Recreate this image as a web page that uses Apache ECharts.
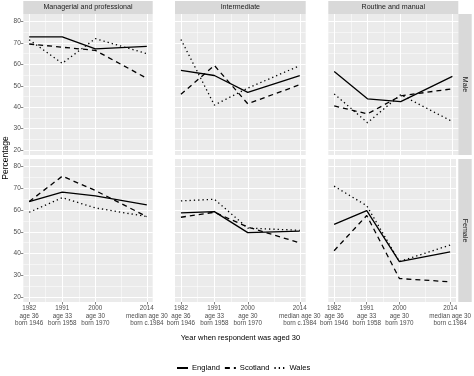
<!DOCTYPE html>
<html>
<head>
<meta charset="utf-8">
<script src="https://cdn.jsdelivr.net/npm/echarts@6/dist/echarts.min.js"></script>
<style>
html,body{margin:0;padding:0;background:#fff;}
#chart{width:474px;height:376px;}
</style>
</head>
<body>
<div id="chart"></div>
<script>
// ---- data ----
const years = [1982, 1991, 2000, 2014];
const yearLabels = ['1982\nage 36\nborn 1946', '1991\nage 33\nborn 1958', '2000\nage 30\nborn 1970', '2014\nmedian age 30\nborn c.1984'];
const minorYears = [1986.5, 1995.5, 2007];
const yTicks = [20, 30, 40, 50, 60, 70, 80];
const yMinorTicks = [25, 35, 45, 55, 65, 75];
const classes = ['Managerial and professional', 'Intermediate', 'Routine and manual'];
const sexes = ['Male', 'Female'];
const countries = ['England', 'Scotland', 'Wales'];

const maleManagerialEngland = [72.8, 72.8, 67.2, 68.4];
const maleManagerialScotland = [69.5, 68.0, 66.5, 53.5];
const maleManagerialWales = [71.5, 60.5, 72.0, 65.0];
const maleIntermediateEngland = [57.2, 54.8, 46.9, 54.7];
const maleIntermediateScotland = [46.0, 59.5, 41.6, 50.5];
const maleIntermediateWales = [71.6, 41.0, 48.9, 59.4];
const maleRoutineEngland = [56.7, 43.9, 42.6, 54.4];
const maleRoutineScotland = [40.6, 36.9, 45.3, 48.6];
const maleRoutineWales = [46.2, 32.8, 45.8, 33.3];
const femaleManagerialEngland = [63.9, 68.3, 66.5, 62.4];
const femaleManagerialScotland = [63.9, 75.6, 69.0, 57.0];
const femaleManagerialWales = [59.0, 65.7, 61.0, 57.0];
const femaleIntermediateEngland = [58.7, 59.3, 49.6, 50.3];
const femaleIntermediateScotland = [56.7, 59.0, 52.2, 44.9];
const femaleIntermediateWales = [64.2, 65.0, 51.7, 50.7];
const femaleRoutineEngland = [53.4, 59.7, 36.3, 40.8];
const femaleRoutineScotland = [41.3, 57.5, 28.5, 27.0];
const femaleRoutineWales = [71.0, 62.0, 36.3, 43.9];

const panelData = [
  [ // Male
    [maleManagerialEngland, maleManagerialScotland, maleManagerialWales],
    [maleIntermediateEngland, maleIntermediateScotland, maleIntermediateWales],
    [maleRoutineEngland, maleRoutineScotland, maleRoutineWales]
  ],
  [ // Female
    [femaleManagerialEngland, femaleManagerialScotland, femaleManagerialWales],
    [femaleIntermediateEngland, femaleIntermediateScotland, femaleIntermediateWales],
    [femaleRoutineEngland, femaleRoutineScotland, femaleRoutineWales]
  ]
];

// ---- layout ----
const FONT = 'Liberation Sans, Arial, sans-serif';
const cols = [{left: 23.3, width: 129.4}, {left: 175, width: 130.7}, {left: 328.3, width: 130}];
const rows = [{top: 14, height: 141}, {top: 159, height: 143}];
const XMIN = 1980.4, XMAX = 2015.6, YMIN = 17.7, YMAX = 83.5;
const lineTypes = ['solid', [5, 4], [1.3, 3]];

const grid = [], xAxis = [], yAxis = [], series = [], graphic = [];
let gi = 0;
rows.forEach((r, ri) => {
  cols.forEach((c, ci) => {
    grid.push({left: c.left, top: r.top, width: c.width, height: r.height,
      show: true, backgroundColor: '#EBEBEB', borderWidth: 0, containLabel: false});
    const bottomRow = ri === rows.length - 1;
    const leftCol = ci === 0;
    // major x
    xAxis.push({
      type: 'value', gridIndex: gi, min: XMIN, max: XMAX,
      axisLine: {show: false},
      axisTick: {show: bottomRow, customValues: years, length: 2.5, lineStyle: {color: '#333', width: 0.6}},
      axisLabel: {show: bottomRow, customValues: years, margin: 3,
        formatter: v => yearLabels[years.indexOf(v)],
        fontFamily: FONT, fontSize: 6.3, lineHeight: 7.3, color: '#4D4D4D', align: 'center'},
      splitLine: {show: true, lineStyle: {color: '#FFFFFF', width: 1}}
    });
    // minor x
    xAxis.push({
      type: 'value', gridIndex: gi, min: XMIN, max: XMAX,
      axisLine: {show: false},
      axisTick: {show: false, customValues: minorYears},
      axisLabel: {show: false, customValues: minorYears},
      splitLine: {show: true, lineStyle: {color: '#FFFFFF', width: 0.5}}
    });
    // major y
    yAxis.push({
      type: 'value', gridIndex: gi, min: YMIN, max: YMAX,
      axisLine: {show: false},
      axisTick: {show: leftCol, customValues: yTicks, length: 2.5, lineStyle: {color: '#333', width: 0.6}},
      axisLabel: {show: leftCol, customValues: yTicks, margin: 2.5,
        fontFamily: FONT, fontSize: 6.5, color: '#4D4D4D'},
      splitLine: {show: true, lineStyle: {color: '#FFFFFF', width: 1}}
    });
    // minor y
    yAxis.push({
      type: 'value', gridIndex: gi, min: YMIN, max: YMAX,
      axisLine: {show: false},
      axisTick: {show: false, customValues: yMinorTicks},
      axisLabel: {show: false, customValues: yMinorTicks},
      splitLine: {show: true, lineStyle: {color: '#FFFFFF', width: 0.5}}
    });
    countries.forEach((name, k) => {
      series.push({
        type: 'line', name: name,
        xAxisIndex: gi * 2, yAxisIndex: gi * 2,
        data: years.map((y, j) => [y, panelData[ri][ci][k][j]]),
        symbol: 'none', silent: true, animation: false,
        lineStyle: {color: '#000', width: 1.3, type: lineTypes[k]},
        itemStyle: {color: '#000'}
      });
    });
    gi++;
  });
});

// strips (top)
cols.forEach((c, ci) => {
  graphic.push({type: 'rect', shape: {x: c.left, y: 1, width: c.width, height: 13},
    style: {fill: '#D9D9D9'}, silent: true});
  graphic.push({type: 'text', x: c.left + c.width / 2, y: 7.5,
    style: {text: classes[ci], fill: '#1A1A1A', font: '7.1px ' + FONT, align: 'center', verticalAlign: 'middle'}, silent: true});
});
// strips (right)
rows.forEach((r, ri) => {
  graphic.push({type: 'rect', shape: {x: 458.3, y: r.top, width: 13.4, height: r.height},
    style: {fill: '#D9D9D9'}, silent: true});
  graphic.push({type: 'text', x: 465, y: r.top + r.height / 2, rotation: -Math.PI / 2,
    style: {text: sexes[ri], fill: '#1A1A1A', font: '7.1px ' + FONT, align: 'center', verticalAlign: 'middle'}, silent: true});
});
// axis titles
graphic.push({type: 'text', x: 5.5, y: 158, rotation: Math.PI / 2,
  style: {text: 'Percentage', fill: '#000', font: '8.5px ' + FONT, align: 'center', verticalAlign: 'middle'}, silent: true});
graphic.push({type: 'text', x: 240.5, y: 337.5,
  style: {text: 'Year when respondent was aged 30', fill: '#000', font: '7.5px ' + FONT, align: 'center', verticalAlign: 'middle'}, silent: true});

const chart = echarts.init(document.getElementById('chart'), null, {renderer: 'canvas'});
chart.setOption({
  animation: false,
  backgroundColor: '#FFFFFF',
  grid: grid, xAxis: xAxis, yAxis: yAxis, series: series,
  legend: {
    data: countries, left: 171, top: 359, itemWidth: 11, itemHeight: 8, itemGap: 4,
    itemStyle: {opacity: 0, borderWidth: 0},
    textStyle: {fontFamily: FONT, fontSize: 7.6, color: '#000', padding: [0, 0, 0, -1]},
    selectedMode: false
  },
  graphic: graphic
});
</script>
</body>
</html>
